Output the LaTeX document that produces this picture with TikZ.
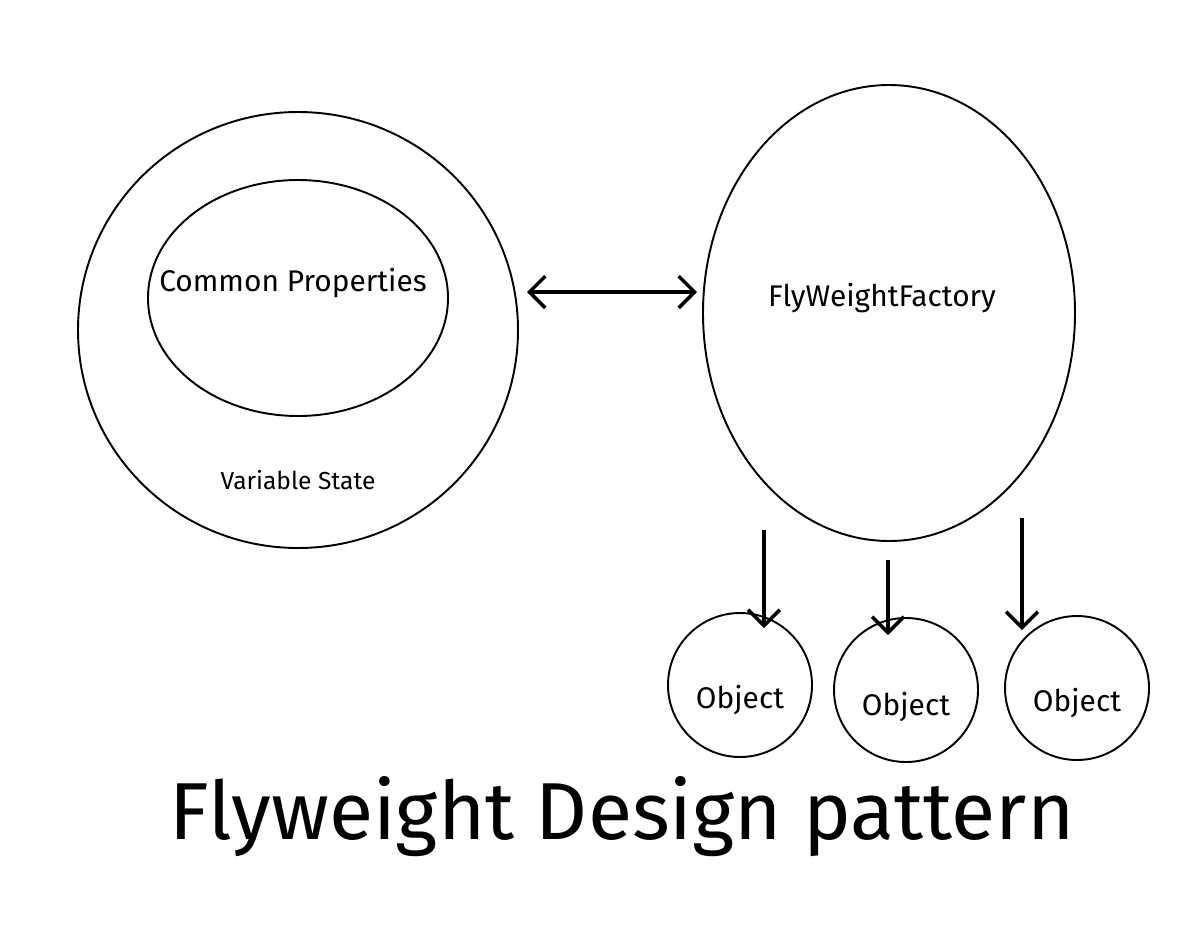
\documentclass[tikz,border=0pt]{standalone}
\usepackage{fontspec}
\setmainfont{Fira Sans}
\usetikzlibrary{arrows.meta,shapes.geometric}
\begin{document}
\begin{tikzpicture}[x=0.02cm,y=-0.02cm,
  shp/.style={draw=black,line width=1.1pt},
  arr/.style={line width=2pt,-{Straight Barb[length=9pt,width=18pt,line width=2pt]}},
  darr/.style={line width=2pt,{Straight Barb[length=9pt,width=18pt,line width=2pt]}-{Straight Barb[length=9pt,width=18pt,line width=2pt]}},
  lbl/.style={font=\fontsize{17}{20}\selectfont},
  slbl/.style={font=\fontsize{14}{17}\selectfont}]
\useasboundingbox[fill=white] (0,0) rectangle (1200,924);
\node[shp,ellipse,minimum width=300*0.02cm,minimum height=236*0.02cm,inner sep=0] (cp) at (298,298) {};
\node[lbl] (cpt) at (293,283) {Common Properties};
\node[slbl] (vs) at (298,480) {Variable State};
\node[shp,ellipse,minimum width=440*0.02cm,minimum height=436*0.02cm,inner sep=0] (outer) at (298,330) {};
\node[shp,ellipse,minimum width=372*0.02cm,minimum height=456*0.02cm,inner sep=0] (fac) at (889,313) {};
\node[lbl] at (882,298) {FlyWeightFactory};
\coordinate (a1) at (527,292); \coordinate (a2) at (697,292);
\draw[darr] (a1) -- (a2);
\foreach \n/\x/\y/\ty in {o1/740/685/700, o2/906/690/707, o3/1077/688/703}{
  \node[shp,circle,minimum size=144*0.02cm,inner sep=0] (\n) at (\x,\y) {};
  \node[lbl] at (\x,\ty) {Object};
}
\coordinate (s1) at (764,530); \coordinate (s2) at (888,560); \coordinate (s3) at (1022,518);
\coordinate (e1) at (764,628); \coordinate (e2) at (888,635); \coordinate (e3) at (1022,630);
\draw[arr] (s1) -- (e1);
\draw[arr] (s2) -- (e2);
\draw[arr] (s3) -- (e3);
\node[font=\fontsize{46}{52}\selectfont] (title) at (622,817) {Flyweight Design pattern};
\end{tikzpicture}
\end{document}
